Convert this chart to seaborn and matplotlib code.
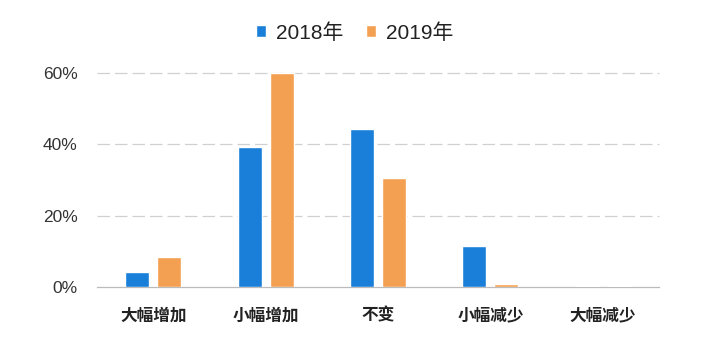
import matplotlib
matplotlib.use("Agg")
import matplotlib.pyplot as plt
import seaborn as sns
import pandas as pd
from matplotlib.ticker import FuncFormatter

categories = ["大幅增加", "小幅增加", "不变", "小幅减少", "大幅减少"]
series_names = ["2018年", "2019年"]
values_2018 = [4.1, 39.3, 44.2, 11.4, 0.4]
values_2019 = [8.3, 60.0, 30.6, 0.8, 0.3]
y_ticks = [0, 20, 40, 60]
colors = ["#1a7fd8", "#f3a052"]

df = pd.DataFrame({
    "category": categories * 2,
    "year": [series_names[0]] * len(categories) + [series_names[1]] * len(categories),
    "value": values_2018 + values_2019,
})

sns.set_theme(style="white")
plt.rcParams["font.family"] = ["Liberation Sans", "Noto Sans CJK SC", "DejaVu Sans"]

fig = plt.figure(figsize=(7.09, 3.39), dpi=100)
ax = fig.add_axes([97 / 709, 1 - 287 / 339, (659 - 97) / 709, (287 - 73) / 339])

sns.barplot(data=df, x="category", y="value", hue="year", order=categories,
            hue_order=series_names, palette=colors, width=0.57, gap=0.25,
            saturation=1, ax=ax, legend=True, zorder=3)

ax.set_xlim(-0.5, len(categories) - 0.5)
ax.set_ylim(0, 60)
ax.set_yticks(y_ticks)
ax.yaxis.set_major_formatter(FuncFormatter(lambda v, p: f"{int(v)}%"))
ax.set_xlabel("")
ax.set_ylabel("")

for v in y_ticks[1:]:
    ax.axhline(v, color="#d0d0d0", lw=0.9, ls=(0, (10, 4)), zorder=0, clip_on=False)

for s in ["top", "right", "left"]:
    ax.spines[s].set_visible(False)
ax.spines["bottom"].set_color("#bbbbbb")
ax.spines["bottom"].set_linewidth(0.9)
ax.spines["bottom"].set_zorder(1)

ax.tick_params(axis="y", length=0, pad=14, labelsize=12.5, labelcolor="#333333")
ax.tick_params(axis="x", length=0, pad=14)
for lab in ax.get_xticklabels():
    lab.set_fontfamily(["Noto Sans CJK SC"])
    lab.set_fontweight("bold")
    lab.set_fontsize(12)
    lab.set_color("#222222")

handles, labels = ax.get_legend_handles_labels()
ax.get_legend().remove()
fig.legend(handles, labels, loc="center", bbox_to_anchor=(0.5, 1 - 33 / 339),
           ncol=2, frameon=False, prop={"size": 15, "weight": "medium"},
           handlelength=0.5, handleheight=0.5,
           handletextpad=0.45, columnspacing=1.1, labelcolor="#222222")

fig.savefig("out.png", dpi=100)
